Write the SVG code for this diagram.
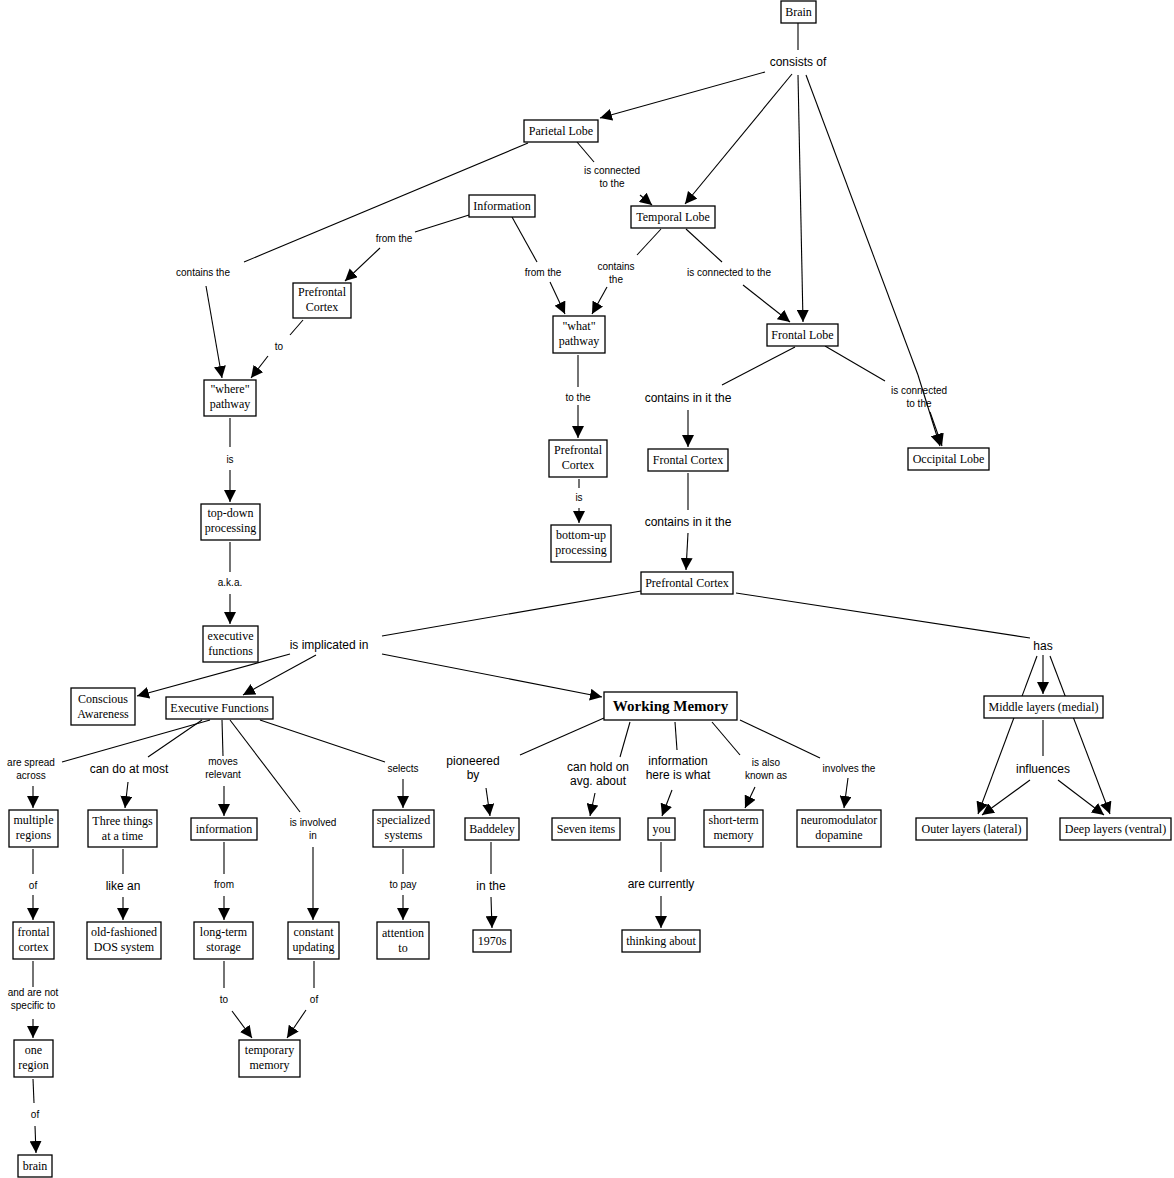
<svg xmlns="http://www.w3.org/2000/svg" width="1174" height="1178" viewBox="0 0 1174 1178">
<style>
.n rect{fill:#fff;stroke:#000;stroke-width:1.3}
.n text{font-family:"Liberation Serif",serif;font-size:12px;text-anchor:middle;fill:#000}
.l{font-family:"Liberation Sans",sans-serif;font-size:10px;text-anchor:middle;fill:#000}
.L{font-family:"Liberation Sans",sans-serif;font-size:12px;text-anchor:middle;fill:#000}
#c line{stroke:#000;stroke-width:1.1}
#c line.a{marker-end:url(#ah)}
</style>
<defs><marker id="ah" markerUnits="userSpaceOnUse" markerWidth="14" markerHeight="12" refX="12" refY="6" orient="auto"><path d="M0,0 L12,6 L0,12 Z" fill="#000"/></marker></defs>
<rect width="1174" height="1178" fill="#fff"/>
<g id="c">
<line x1="798" y1="23" x2="798" y2="50"/>
<line class="a" x1="765" y1="72" x2="600" y2="118"/>
<line class="a" x1="792" y1="74" x2="685" y2="204"/>
<line class="a" x1="798" y1="75" x2="803" y2="322"/>
<line x1="806" y1="75" x2="918" y2="375"/>
<line class="a" x1="918" y1="375" x2="940" y2="446"/>
<line x1="577" y1="142" x2="594" y2="162"/>
<line class="a" x1="640" y1="195" x2="652" y2="205"/>
<line x1="528" y1="143" x2="244" y2="262"/>
<line class="a" x1="206" y1="286" x2="222" y2="378"/>
<line x1="469" y1="215" x2="415" y2="232"/>
<line class="a" x1="380" y1="248" x2="345" y2="281"/>
<line x1="512" y1="217" x2="537" y2="262"/>
<line class="a" x1="550" y1="282" x2="565" y2="314"/>
<line x1="661" y1="229" x2="637" y2="255"/>
<line class="a" x1="607" y1="287" x2="592" y2="314"/>
<line x1="686" y1="229" x2="722" y2="262"/>
<line class="a" x1="743" y1="285" x2="790" y2="322"/>
<line x1="303" y1="320" x2="290" y2="335"/>
<line class="a" x1="268" y1="356" x2="251" y2="378"/>
<line x1="230" y1="418" x2="230" y2="447"/>
<line class="a" x1="230" y1="470" x2="230" y2="502"/>
<line x1="230" y1="542" x2="230" y2="572"/>
<line class="a" x1="230" y1="594" x2="230" y2="624"/>
<line x1="578" y1="355" x2="578" y2="387"/>
<line class="a" x1="578" y1="405" x2="578" y2="438"/>
<line x1="579" y1="479" x2="579" y2="488"/>
<line class="a" x1="579" y1="508" x2="579" y2="523"/>
<line x1="795" y1="347" x2="722" y2="385"/>
<line class="a" x1="688" y1="410" x2="688" y2="447"/>
<line x1="688" y1="473" x2="688" y2="510"/>
<line class="a" x1="688" y1="533" x2="686" y2="570"/>
<line x1="825" y1="346" x2="885" y2="381"/>
<line class="a" x1="930" y1="412" x2="942" y2="446"/>
<line x1="641" y1="591" x2="382" y2="636"/>
<line class="a" x1="290" y1="654" x2="137" y2="696"/>
<line class="a" x1="316" y1="655" x2="243" y2="695"/>
<line class="a" x1="382" y1="654" x2="602" y2="697"/>
<line x1="736" y1="593" x2="1030" y2="638"/>
<line class="a" x1="1037" y1="656" x2="978" y2="814"/>
<line class="a" x1="1050" y1="656" x2="1110" y2="814"/>
<line class="a" x1="1043" y1="655" x2="1043" y2="694"/>
<line x1="1043" y1="720" x2="1043" y2="756"/>
<line class="a" x1="1030" y1="780" x2="982" y2="815"/>
<line class="a" x1="1058" y1="780" x2="1104" y2="815"/>
<line x1="210" y1="720" x2="62" y2="762"/>
<line class="a" x1="33" y1="786" x2="33" y2="808"/>
<line x1="202" y1="720" x2="148" y2="757"/>
<line class="a" x1="128" y1="782" x2="125" y2="808"/>
<line x1="222" y1="720" x2="223" y2="756"/>
<line class="a" x1="224" y1="786" x2="224" y2="816"/>
<line x1="230" y1="720" x2="300" y2="812"/>
<line class="a" x1="313" y1="847" x2="313" y2="920"/>
<line x1="260" y1="720" x2="385" y2="762"/>
<line class="a" x1="403" y1="779" x2="403" y2="808"/>
<line x1="33" y1="849" x2="33" y2="874"/>
<line class="a" x1="33" y1="895" x2="33" y2="920"/>
<line x1="33" y1="961" x2="33" y2="987"/>
<line class="a" x1="33" y1="1019" x2="33" y2="1038"/>
<line x1="33" y1="1079" x2="34" y2="1103"/>
<line class="a" x1="35" y1="1126" x2="36" y2="1153"/>
<line x1="123" y1="849" x2="123" y2="874"/>
<line class="a" x1="123" y1="897" x2="123" y2="920"/>
<line x1="224" y1="842" x2="224" y2="874"/>
<line class="a" x1="224" y1="896" x2="224" y2="920"/>
<line x1="224" y1="961" x2="224" y2="988"/>
<line class="a" x1="232" y1="1011" x2="252" y2="1038"/>
<line x1="314" y1="961" x2="314" y2="988"/>
<line class="a" x1="306" y1="1010" x2="287" y2="1038"/>
<line x1="403" y1="849" x2="403" y2="874"/>
<line class="a" x1="403" y1="895" x2="403" y2="920"/>
<line x1="604" y1="718" x2="520" y2="755"/>
<line class="a" x1="486" y1="788" x2="490" y2="816"/>
<line x1="630" y1="722" x2="620" y2="757"/>
<line class="a" x1="595" y1="793" x2="590" y2="816"/>
<line x1="675" y1="722" x2="677" y2="750"/>
<line class="a" x1="672" y1="790" x2="662" y2="816"/>
<line x1="712" y1="722" x2="740" y2="755"/>
<line class="a" x1="755" y1="787" x2="745" y2="808"/>
<line x1="740" y1="720" x2="820" y2="758"/>
<line class="a" x1="848" y1="778" x2="844" y2="808"/>
<line x1="491" y1="842" x2="491" y2="874"/>
<line class="a" x1="491" y1="897" x2="492" y2="928"/>
<line x1="661" y1="842" x2="661" y2="872"/>
<line class="a" x1="661" y1="896" x2="661" y2="928"/>
</g>
<g id="labels">
<text class="L" x="798" y="66">consists of</text>
<text class="l" x="612" y="174">is connected</text><text class="l" x="612" y="187">to the</text>
<text class="l" x="203" y="276">contains the</text>
<text class="l" x="394" y="242">from the</text>
<text class="l" x="543" y="276">from the</text>
<text class="l" x="616" y="270">contains</text><text class="l" x="616" y="283">the</text>
<text class="l" x="729" y="276">is connected to the</text>
<text class="l" x="279" y="350">to</text>
<text class="l" x="230" y="463">is</text>
<text class="l" x="230" y="586">a.k.a.</text>
<text class="l" x="578" y="401">to the</text>
<text class="l" x="579" y="501">is</text>
<text class="L" x="688" y="402">contains in it the</text>
<text class="L" x="688" y="526">contains in it the</text>
<text class="l" x="919" y="394">is connected</text><text class="l" x="919" y="407">to the</text>
<text class="L" x="329" y="649">is implicated in</text>
<text class="L" x="1043" y="650">has</text>
<text class="L" x="1043" y="773">influences</text>
<text class="l" x="31" y="766">are spread</text><text class="l" x="31" y="779">across</text>
<text class="L" x="129" y="773">can do at most</text>
<text class="l" x="223" y="765">moves</text><text class="l" x="223" y="778">relevant</text>
<text class="l" x="313" y="826">is involved</text><text class="l" x="313" y="839">in</text>
<text class="l" x="403" y="772">selects</text>
<text class="l" x="33" y="889">of</text>
<text class="l" x="33" y="996">and are not</text><text class="l" x="33" y="1009">specific to</text>
<text class="l" x="35" y="1118">of</text>
<text class="L" x="123" y="890">like an</text>
<text class="l" x="224" y="888">from</text>
<text class="l" x="224" y="1003">to</text>
<text class="l" x="314" y="1003">of</text>
<text class="l" x="403" y="888">to pay</text>
<text class="L" x="473" y="765">pioneered</text><text class="L" x="473" y="779">by</text>
<text class="L" x="598" y="771">can hold on</text><text class="L" x="598" y="785">avg. about</text>
<text class="L" x="678" y="765">information</text><text class="L" x="678" y="779">here is what</text>
<text class="l" x="766" y="766">is also</text><text class="l" x="766" y="779">known as</text>
<text class="l" x="849" y="772">involves the</text>
<text class="L" x="491" y="890">in the</text>
<text class="L" x="661" y="888">are currently</text>
</g>
<g id="n1" class="n"><rect x="781" y="1" width="35" height="22"/><text x="798.5" y="16">Brain</text></g>
<g id="n2" class="n"><rect x="524" y="120" width="74" height="22"/><text x="561" y="135">Parietal Lobe</text></g>
<g id="n3" class="n"><rect x="469" y="195" width="66" height="22"/><text x="502" y="210">Information</text></g>
<g id="n4" class="n"><rect x="631" y="206" width="84" height="22"/><text x="673" y="221">Temporal Lobe</text></g>
<g id="n5" class="n"><rect x="293" y="283" width="58" height="35"/><text x="322" y="296">Prefrontal</text><text x="322" y="311">Cortex</text></g>
<g id="n6" class="n"><rect x="553" y="316" width="52" height="37"/><text x="579" y="330">"what"</text><text x="579" y="345">pathway</text></g>
<g id="n7" class="n"><rect x="767" y="324" width="71" height="22"/><text x="802.5" y="339">Frontal Lobe</text></g>
<g id="n8" class="n"><rect x="204" y="380" width="52" height="36"/><text x="230" y="393">"where"</text><text x="230" y="408">pathway</text></g>
<g id="n9" class="n"><rect x="549" y="440" width="58" height="37"/><text x="578" y="454">Prefrontal</text><text x="578" y="469">Cortex</text></g>
<g id="n10" class="n"><rect x="648" y="449" width="80" height="22"/><text x="688" y="464">Frontal Cortex</text></g>
<g id="n11" class="n"><rect x="908" y="448" width="81" height="22"/><text x="948.5" y="463">Occipital Lobe</text></g>
<g id="n12" class="n"><rect x="201" y="504" width="59" height="36"/><text x="230.5" y="517">top-down</text><text x="230.5" y="532">processing</text></g>
<g id="n13" class="n"><rect x="551" y="525" width="60" height="37"/><text x="581" y="539">bottom-up</text><text x="581" y="554">processing</text></g>
<g id="n14" class="n"><rect x="641" y="572" width="92" height="22"/><text x="687" y="587">Prefrontal Cortex</text></g>
<g id="n15" class="n"><rect x="203" y="626" width="55" height="36"/><text x="230.5" y="640">executive</text><text x="230.5" y="655">functions</text></g>
<g id="n16" class="n"><rect x="71" y="688" width="64" height="37"/><text x="103" y="703">Conscious</text><text x="103" y="718">Awareness</text></g>
<g id="n17" class="n"><rect x="166" y="697" width="107" height="22"/><text x="219.5" y="712">Executive Functions</text></g>
<g id="n18" class="n"><rect x="604" y="692" width="133" height="28"/><text x="670.5" y="711" style="font-size:15px;font-weight:bold">Working Memory</text></g>
<g id="n19" class="n"><rect x="984" y="696" width="119" height="22"/><text x="1043.5" y="711">Middle layers (medial)</text></g>
<g id="n20" class="n"><rect x="9" y="810" width="49" height="37"/><text x="33.5" y="824">multiple</text><text x="33.5" y="839">regions</text></g>
<g id="n21" class="n"><rect x="88" y="810" width="69" height="37"/><text x="122.5" y="825">Three things</text><text x="122.5" y="840">at a time</text></g>
<g id="n22" class="n"><rect x="191" y="818" width="66" height="22"/><text x="224" y="833">information</text></g>
<g id="n23" class="n"><rect x="373" y="810" width="61" height="37"/><text x="403.5" y="824">specialized</text><text x="403.5" y="839">systems</text></g>
<g id="n24" class="n"><rect x="465" y="818" width="54" height="22"/><text x="492" y="833">Baddeley</text></g>
<g id="n25" class="n"><rect x="552" y="818" width="68" height="22"/><text x="586" y="833">Seven items</text></g>
<g id="n26" class="n"><rect x="648" y="818" width="27" height="22"/><text x="661.5" y="833">you</text></g>
<g id="n27" class="n"><rect x="704" y="810" width="59" height="37"/><text x="733.5" y="824">short-term</text><text x="733.5" y="839">memory</text></g>
<g id="n28" class="n"><rect x="797" y="810" width="84" height="37"/><text x="839" y="824">neuromodulator</text><text x="839" y="839">dopamine</text></g>
<g id="n29" class="n"><rect x="916" y="818" width="111" height="22"/><text x="971.5" y="833">Outer layers (lateral)</text></g>
<g id="n30" class="n"><rect x="1060" y="818" width="111" height="22"/><text x="1115.5" y="833">Deep layers (ventral)</text></g>
<g id="n31" class="n"><rect x="13" y="922" width="41" height="37"/><text x="33.5" y="936">frontal</text><text x="33.5" y="951">cortex</text></g>
<g id="n32" class="n"><rect x="87" y="922" width="74" height="37"/><text x="124" y="936">old-fashioned</text><text x="124" y="951">DOS system</text></g>
<g id="n33" class="n"><rect x="194" y="922" width="59" height="37"/><text x="223.5" y="936">long-term</text><text x="223.5" y="951">storage</text></g>
<g id="n34" class="n"><rect x="288" y="922" width="51" height="37"/><text x="313.5" y="936">constant</text><text x="313.5" y="951">updating</text></g>
<g id="n35" class="n"><rect x="377" y="922" width="52" height="37"/><text x="403" y="937">attention</text><text x="403" y="952">to</text></g>
<g id="n36" class="n"><rect x="473" y="930" width="38" height="22"/><text x="492" y="945">1970s</text></g>
<g id="n37" class="n"><rect x="622" y="930" width="78" height="22"/><text x="661" y="945">thinking about</text></g>
<g id="n38" class="n"><rect x="14" y="1040" width="39" height="37"/><text x="33.5" y="1054">one</text><text x="33.5" y="1069">region</text></g>
<g id="n39" class="n"><rect x="239" y="1040" width="61" height="37"/><text x="269.5" y="1054">temporary</text><text x="269.5" y="1069">memory</text></g>
<g id="n40" class="n"><rect x="18" y="1155" width="34" height="22"/><text x="35" y="1170">brain</text></g>
</svg>
